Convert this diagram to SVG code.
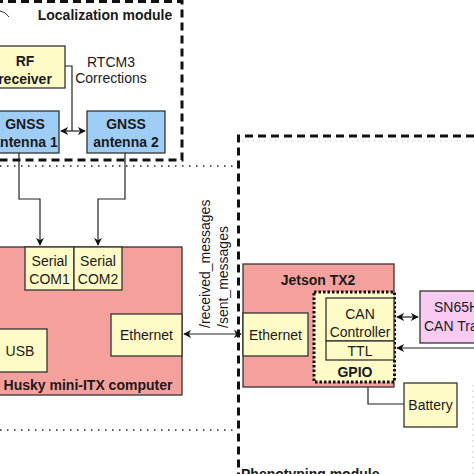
<svg xmlns="http://www.w3.org/2000/svg" width="474" height="474" viewBox="0 0 474 474">
<defs>
<style>
.t{font-family:"Liberation Sans",Arial,sans-serif;font-size:14px;fill:#1a1a1a;text-anchor:middle}
.b{font-weight:bold}
.y{fill:#fffbc6;stroke:#333;stroke-width:1.3}
.p{fill:#f4a09d;stroke:#333;stroke-width:1.3}
.bl{fill:#9ecdf6;stroke:#333;stroke-width:1.3}
.m{fill:#f9caf2;stroke:#333;stroke-width:1.3}
.dash{fill:none;stroke:#111;stroke-width:3;stroke-dasharray:8 5}
.dot{fill:none;stroke:#222;stroke-width:1.5;stroke-dasharray:1.5 5.5}
.ln{fill:none;stroke:#222;stroke-width:1.2}
</style>
<marker id="ah" viewBox="0 0 10 10" refX="9" refY="5" markerWidth="8" markerHeight="8" orient="auto-start-reverse" markerUnits="userSpaceOnUse">
<path d="M0,0 L10,5 L0,10 L3,5 Z" fill="#111"/>
</marker>
</defs>
<rect width="474" height="474" fill="#fff"/>

<g id="groups">
<path class="dash" d="M-5,1.5 H182 V160 H-5"/>
<text class="t b" x="105" y="20">Localization module</text>
<path class="dash" d="M474,136 H238.5 V474"/>
<text class="t b" x="241" y="479" style="text-anchor:start">Phenotyping module</text>
<path class="dot" d="M0,166 H236"/>
<path class="dot" d="M0,430 H236"/>
<path d="M242,141 H474 M473,385 V474" fill="none" stroke="#ccc" stroke-width="1.2" stroke-dasharray="1.5 4"/>
<path d="M0,11 Q6,12 9,17" fill="none" stroke="#333" stroke-width="1"/>
</g>

<g id="connectors">
<path class="ln" d="M65,66 H72 V131"/>
<path class="ln" d="M61,131 H85" marker-start="url(#ah)" marker-end="url(#ah)"/>
<path class="ln" d="M19,153 V199 H40 V245" marker-end="url(#ah)"/>
<path class="ln" d="M125,153 V199 H98 V245" marker-end="url(#ah)"/>
<path class="ln" d="M184,334 H241" marker-start="url(#ah)" marker-end="url(#ah)"/>
<path class="ln" d="M397,317 H418" marker-start="url(#ah)" marker-end="url(#ah)"/>
<path class="ln" d="M474,348 H397" marker-end="url(#ah)"/>
<path class="ln" d="M368,387 V404 H404"/>
<text class="t" transform="translate(210,328) rotate(-90)" style="text-anchor:start">/received_messages</text>
<text class="t" transform="translate(228,328) rotate(-90)" style="text-anchor:start">/sent_messages</text>
</g>

<g id="rf-receiver">
<rect class="y" x="-15" y="46" width="80" height="42"/>
<text class="t b" x="25" y="66">RF</text>
<text class="t b" x="25" y="84">receiver</text>
</g>
<g id="rtcm3-label">
<text class="t" x="111" y="67">RTCM3</text>
<text class="t" x="111" y="83">Corrections</text>
</g>
<g id="gnss-antenna-1">
<rect class="bl" x="-12" y="111" width="71" height="42"/>
<text class="t b" x="25" y="129">GNSS</text>
<text class="t b" x="25" y="147">antenna 1</text>
</g>
<g id="gnss-antenna-2">
<rect class="bl" x="87" y="111" width="78" height="42"/>
<text class="t b" x="126" y="129">GNSS</text>
<text class="t b" x="126" y="147">antenna 2</text>
</g>

<g id="husky">
<rect class="p" x="-10" y="247" width="192" height="148"/>
<text class="t b" x="88" y="390">Husky mini-ITX computer</text>
</g>
<g id="serial-com1">
<rect class="y" x="25" y="247" width="49" height="43"/>
<text class="t" x="49.5" y="266">Serial</text>
<text class="t" x="49.5" y="284">COM1</text>
</g>
<g id="serial-com2">
<rect class="y" x="74" y="247" width="48" height="43"/>
<text class="t" x="98" y="266">Serial</text>
<text class="t" x="98" y="284">COM2</text>
</g>
<g id="husky-ethernet">
<rect class="y" x="111" y="314" width="71" height="42"/>
<text class="t" x="146.5" y="340">Ethernet</text>
</g>
<g id="usb">
<rect class="y" x="-10" y="329" width="57" height="43"/>
<text class="t" x="20" y="356">USB</text>
</g>

<g id="jetson">
<rect class="p" x="243" y="264" width="151" height="123"/>
<text class="t b" x="318" y="285">Jetson TX2</text>
</g>
<g id="jetson-ethernet">
<rect class="y" x="243" y="313" width="65" height="43"/>
<text class="t" x="275.5" y="340">Ethernet</text>
</g>
<g id="gpio">
<rect x="314" y="292" width="80.5" height="90" fill="#fffbc6" stroke="#111" stroke-width="3" stroke-dasharray="2.5 2"/>
<text class="t b" x="355" y="377">GPIO</text>
</g>
<g id="can-controller">
<rect class="y" x="326" y="298" width="68" height="43"/>
<text class="t" x="360" y="319">CAN</text>
<text class="t" x="360" y="337">Controller</text>
</g>
<g id="ttl">
<rect class="y" x="326" y="341" width="68" height="19"/>
<text class="t" x="360" y="356">TTL</text>
</g>
<g id="can-transceiver">
<rect class="m" x="420" y="291" width="70" height="52"/>
<text class="t" x="434" y="312" style="text-anchor:start">SN65H</text>
<text class="t" x="424" y="331" style="text-anchor:start">CAN Tra</text>
</g>
<g id="battery">
<rect class="y" x="404" y="383" width="53" height="44"/>
<text class="t" x="430.5" y="410">Battery</text>
</g>
</svg>
